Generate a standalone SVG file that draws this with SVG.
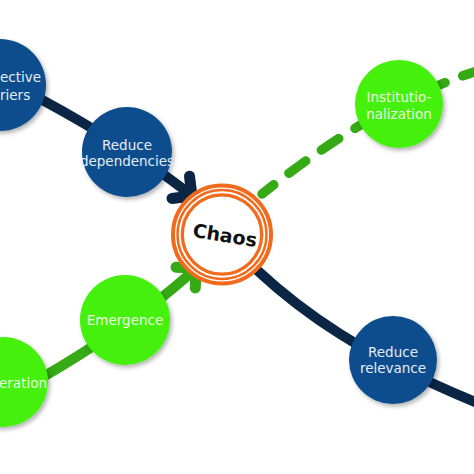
<svg xmlns="http://www.w3.org/2000/svg" width="474" height="474" viewBox="0 0 474 474">
<defs>
<filter id="sh" x="-20%" y="-20%" width="150%" height="150%">
<feDropShadow dx="2" dy="2.5" stdDeviation="2" flood-color="#000" flood-opacity="0.3"/>
</filter>
<style>
.navy{fill:none;stroke:#0b2644;stroke-width:10;stroke-linecap:round;stroke-linejoin:round}
.grn{fill:none;stroke:#35aa14;stroke-width:10;stroke-linecap:round;stroke-linejoin:round}
.head{stroke-width:11}
.dash{fill:none;stroke:#35aa14;stroke-width:9.5;stroke-linecap:round;stroke-dasharray:21 19}
.blue{fill:#114d8e;filter:url(#sh)}
.lime{fill:#44f010;filter:url(#sh)}
.t{font-family:"DejaVu Sans",Verdana,sans-serif;font-size:13.5px;text-anchor:middle}
.s{text-anchor:start}
.tb{fill:#e4ecf5}
.tg{fill:#ecfde2}
.ring{fill:none;stroke:#f26a1c}
</style>
</defs>
<rect width="474" height="474" fill="#fff"/>
<g id="connectors">
<path class="navy" d="M-15,70 C40,98 120,140 190,194"/>
<path class="navy head" d="M172,198.5 L192,196 L189.5,176.2"/>
<path class="grn" d="M20,390 C60,368 140,320 194,270"/>
<path class="grn head" d="M176,267.3 L196,268 L195.3,288"/>
<path class="dash" d="M262,194 C305,160 385,100 480,70" stroke-dashoffset="6"/>
<path class="navy" d="M258,271 C300,310 360,355 480,404"/>
</g>
<g id="n-protective">
<circle class="blue" cx="0" cy="85" r="46"/>
<text class="t tb s" x="0" y="82">ective</text>
<text class="t tb s" x="0" y="100">riers</text>
</g>
<g id="n-dependencies">
<circle class="blue" cx="127" cy="152" r="45"/>
<text class="t tb" x="127" y="150">Reduce</text>
<text class="t tb" x="127" y="166">dependencies</text>
</g>
<g id="n-institutionalization">
<circle class="lime" cx="399" cy="104" r="44"/>
<text class="t tg" x="399" y="102">Institutio-</text>
<text class="t tg" x="399" y="119">nalization</text>
</g>
<g id="n-emergence">
<circle class="lime" cx="125" cy="320" r="45"/>
<text class="t tg" x="125" y="325">Emergence</text>
</g>
<g id="n-eration">
<circle class="lime" cx="3" cy="382" r="45"/>
<text class="t tg s" x="-1" y="388">eration</text>
</g>
<g id="n-relevance">
<circle class="blue" cx="393" cy="360" r="44"/>
<text class="t tb" x="393" y="357">Reduce</text>
<text class="t tb" x="393" y="373">relevance</text>
</g>
<g id="n-chaos">
<circle cx="222" cy="234.5" r="50" fill="#fff"/>
<circle class="ring" cx="222" cy="234.5" r="49" stroke-width="4"/>
<circle class="ring" cx="222" cy="234.5" r="44.5" stroke-width="2.4"/>
<circle class="ring" cx="222" cy="234.5" r="39.7" stroke-width="3.3"/>
<text x="225" y="242" transform="rotate(9 225 235)" font-family="'DejaVu Sans',Verdana,sans-serif" font-size="19" font-weight="bold" fill="#111" text-anchor="middle">Chaos</text>
</g>
</svg>
